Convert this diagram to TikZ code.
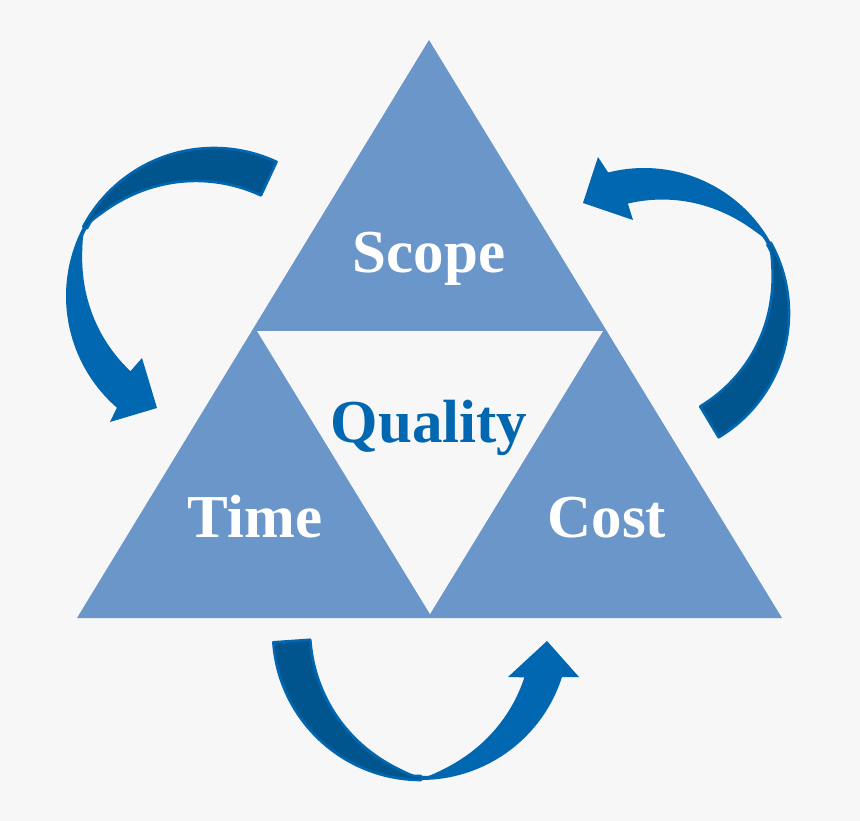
\documentclass[tikz,border=0pt]{standalone}
\usepackage{fontspec}
\setmainfont{Liberation Serif}
\definecolor{bgc}{HTML}{F7F7F7}
\definecolor{tri}{HTML}{6A96CA}
\definecolor{arr}{HTML}{0067B0}
\definecolor{arrdark}{HTML}{00558F}
\begin{document}
\begin{tikzpicture}[x=1pt,y=-1pt,
  declare function={
    wl(\t)=max(37*pow(max(abs(cos(90*(\t+65)/(-87))),0.01),0.8),4);
    wr(\t)=max(36*pow(max(abs(cos(90*(\t-59)/(-88))),0.01),0.8),4);
    wb(\t)=max(37*pow(max(abs(cos(90*(\t-176)/(-86))),0.01),0.8),4);
  },
  lbl/.style={anchor=base,inner sep=0pt,font=\fontsize{61}{61}\selectfont\bfseries},
  arrowbody/.style={fill=arr},
  arrowback/.style={fill=arrdark,draw=arr,line width=2.6pt,line join=round},
  crv/.style={smooth,samples=90,variable=\t}]
\fill[bgc] (0,0) rectangle (860,821);
\useasboundingbox (0,0) rectangle (860,821);
% triangles
\coordinate (apex) at (429,40);
\coordinate (bl) at (77,618);
\coordinate (br) at (782,618);
\coordinate (il) at (257,331);
\coordinate (ir) at (603,331);
\coordinate (ib) at (430,614);
\fill[tri] (apex) -- (bl) -- (br) -- cycle;
\fill[bgc] (il) -- (ir) -- (ib) -- cycle;
% labels
\node[lbl,text=white] (scope) at (429,273) {Scope};
\node[lbl,text=white] (time) at (255,537) {Time};
\node[lbl,text=white] (cost) at (607,537) {Cost};
\node[lbl,text=arr] (quality) at (429,442) {Quality};
% left arrow: centre (214,296), R=148
\fill[arrowbody] plot[crv,domain=-65:-229] ({214+148*cos(\t)},{296+148*sin(\t)})
  -- (110,422) -- (157,408) -- (142,358)
  -- plot[crv,domain=-222:-65] ({214+(148-wl(\t))*cos(\t)},{296+(148-wl(\t))*sin(\t)}) -- cycle;
\path[arrowback] plot[crv,domain=-65:-152] ({214+148*cos(\t)},{296+148*sin(\t)})
  -- plot[crv,domain=-152:-65] ({214+(148-wl(\t))*cos(\t)},{296+(148-wl(\t))*sin(\t)}) -- cycle;
% right arrow: centre (644,313), R=145
\fill[arrowbody] plot[crv,domain=59:-104.3] ({644+145*cos(\t)},{313+145*sin(\t)})
  -- (598,157) -- (583,203) -- (633,220)
  -- plot[crv,domain=-98.4:59] ({644+(145-wr(\t))*cos(\t)},{313+(145-wr(\t))*sin(\t)}) -- cycle;
\path[arrowback] plot[crv,domain=59:-29] ({644+145*cos(\t)},{313+145*sin(\t)})
  -- plot[crv,domain=-29:59] ({644+(145-wr(\t))*cos(\t)},{313+(145-wr(\t))*sin(\t)}) -- cycle;
% bottom arrow: centre (421,632), R=148
\fill[arrowbody] plot[crv,domain=176:17.7] ({421+148*cos(\t)},{632+148*sin(\t)})
  -- (579,677) -- (547,641) -- (508,677)
  -- plot[crv,domain=23.7:176] ({421+(148-wb(\t))*cos(\t)},{632+(148-wb(\t))*sin(\t)}) -- cycle;
\path[arrowback] plot[crv,domain=176:90] ({421+148*cos(\t)},{632+148*sin(\t)})
  -- plot[crv,domain=90:176] ({421+(148-wb(\t))*cos(\t)},{632+(148-wb(\t))*sin(\t)}) -- cycle;
\end{tikzpicture}
\end{document}
